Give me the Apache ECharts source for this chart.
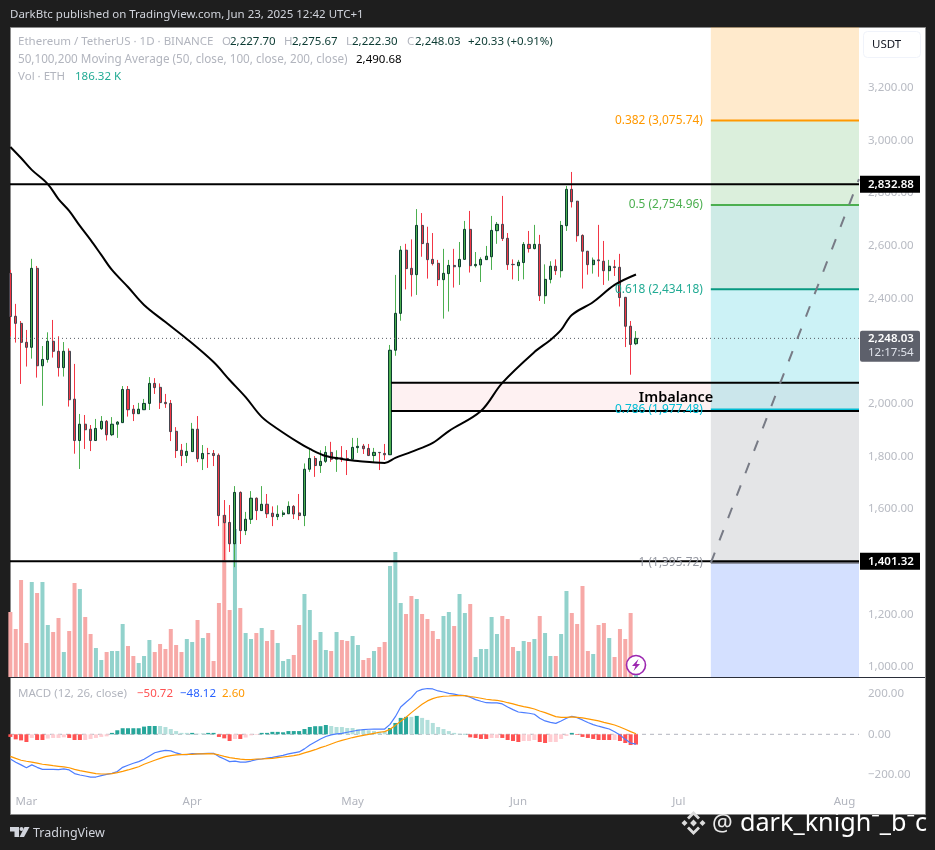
<!DOCTYPE html>
<html><head><meta charset="utf-8">
<script src="https://cdn.jsdelivr.net/npm/echarts@6/dist/echarts.min.js"></script>
<style>html,body{margin:0;padding:0;background:#1e1e1e}#c{width:935px;height:850px}</style>
</head><body><div id="c"></div>
<script>
// open, close, low, high, one row per day from 26 Feb 2025
const candles = [
[2495,2331,2255,2508],[2332,2305,2232,2379],[2305,2233,2075,2314],
[2233,2214,2141,2280],[2214,2514,2171,2550],[2514,2144,2099,2523],[2144,2168,1992,2219],[2168,2237,2156,2271],[2237,2199,2175,2318],[2199,2137,2103,2256],[2137,2199,2103,2234],[2199,2015,1989,2210],[2017,1860,1810,2151],
[1860,1922,1752,1961],[1922,1901,1828,1957],[1903,1860,1820,1919],[1860,1906,1860,1942],[1905,1933,1900,1953],[1933,1882,1860,1938],[1882,1922,1877,1949],[1922,1930,1870,1934],[1928,2054,1928,2067],[2054,1977,1951,2067],
[1979,1962,1934,1995],[1962,1979,1962,2003],[1977,2001,1977,2018],[2001,2077,1976,2101],[2077,2061,2037,2097],[2062,2004,1980,2077],[2005,2000,1984,2037],[2001,1894,1858,2014],[1895,1822,1794,1911],[1823,1803,1763,1847],[1803,1819,1775,1851],
[1818,1903,1818,1927],[1903,1791,1778,1953],[1791,1811,1748,1843],[1811,1810,1756,1832],[1811,1803,1763,1824],[1804,1575,1535,1811],[1576,1548,1406,1634],[1549,1468,1437,1615],[1468,1663,1379,1687],[1663,1518,1467,1667],
[1518,1561,1501,1589],[1561,1641,1543,1668],[1641,1594,1558,1644],[1594,1618,1594,1687],[1618,1582,1566,1657],[1584,1571,1535,1610],[1571,1580,1558,1614],[1579,1585,1570,1595],[1582,1610,1582,1629],[1610,1581,1562,1615],
[1585,1575,1558,1657],[1575,1751,1535,1773],[1751,1792,1741,1832],[1792,1765,1722,1801],[1765,1781,1737,1823],[1781,1815,1775,1839],[1815,1789,1779,1855],[1789,1796,1741,1823],[1794,1789,1779,1839],[1792,1785,1729,1824],
[1789,1834,1789,1870],[1833,1838,1813,1870],[1839,1829,1809,1847],[1830,1803,1801,1847],[1803,1815,1779,1832],[1815,1814,1748,1815],[1811,1806,1786,1847],[1806,2203,1806,2223],[2203,2343,2182,2489],[2343,2583,2315,2599],
[2583,2513,2434,2607],[2514,2490,2407,2624],[2490,2677,2413,2739],[2677,2608,2558,2724],[2609,2547,2475,2672],[2548,2532,2525,2648],[2533,2471,2447,2546],[2471,2495,2323,2588],[2494,2525,2350,2546],[2525,2520,2441,2588],
[2520,2548,2451,2614],[2548,2662,2548,2694],[2662,2524,2498,2732],[2524,2529,2517,2576],[2527,2548,2462,2556],[2547,2560,2547,2599],[2558,2658,2508,2713],[2657,2681,2607,2690],[2681,2627,2618,2789],[2628,2528,2508,2648],[2529,2528,2472,2548],
[2524,2537,2466,2546],[2536,2605,2472,2614],[2605,2589,2574,2656],[2589,2605,2586,2679],[2605,2410,2390,2641],[2410,2472,2379,2529],[2472,2522,2457,2541],[2522,2505,2489,2548],[2505,2677,2479,2694],[2676,2814,2656,2827],
[2814,2767,2745,2880],[2769,2638,2615,2770],[2639,2579,2437,2643],[2579,2528,2490,2580],[2528,2545,2494,2555],[2546,2543,2482,2679],[2541,2505,2451,2618],[2505,2522,2467,2546],[2520,2517,2485,2546],[2518,2403,2369,2569],
[2404,2294,2215,2404],[2294,2225,2110,2314],[2227.70,2248.03,2222.30,2275.67]
];
// volume in thousands of ETH
const volume = [
1300,960,1940,
680,1900,1680,1900,1040,900,1180,500,920,1880,1760,1200,860,580,340,500,520,520,1060,620,420,280,420,740,500,660,560,960,640,500,760,
700,1140,780,880,320,1480,3240,1340,2960,1380,880,760,880,980,720,940,680,320,360,440,1040,1660,1340,740,900,540,520,900,740,720,
820,640,340,380,520,600,700,2220,2500,1480,1260,1620,1560,1260,1160,920,760,1220,1300,1020,1660,1280,1460,400,560,560,1200,860,1220,1160,600,
520,720,700,760,1220,880,420,420,860,1720,1280,1060,1820,520,460,1040,1080,780,400,960,760,1280,186.32
];
const macdHist = [
-13,-25,-30,
-38,-18,-28,-28,-21,-18,-18,-15,-18,-28,-28,-28,-23,-18,-13,-10,7,20,30,30,30,30,38,41,41,41,36,26,16,7,7,
7,3,5,7,7,-13,-20,-33,-23,-23,-16,-5,-3,7,7,12,12,10,16,16,16,26,36,40,40,46,41,36,36,31,
31,25,21,20,16,13,16,31,56,81,86,86,91,81,71,56,36,26,16,7,3,2,-15,-18,-23,-23,-18,-18,-18,-28,-33,
-38,-33,-33,-28,-38,-43,-38,-38,-23,-8,7,-3,-13,-18,-23,-28,-28,-28,-28,-33,-43,-53,-50.72
];
const histStrong = [
1,1,1,
1,0,1,1,0,0,0,0,1,1,1,0,0,0,0,0,1,1,1,1,1,1,1,1,1,0,0,0,0,0,0,
1,0,0,1,1,1,1,1,0,1,0,0,0,1,1,1,1,1,1,1,1,1,1,1,1,1,0,0,0,0,
0,0,0,0,0,0,0,1,1,1,1,0,1,0,0,0,0,0,0,0,0,1,1,1,1,1,0,0,1,1,1,
1,0,0,0,1,1,0,0,0,0,1,1,1,1,1,1,1,1,0,1,1,1,1
];
const macdLine = [
-122,-138,-151,
-165,-151,-163,-173,-173,-173,-174,-171,-176,-194,-201,-206,-211,-211,-204,-198,-193,-184,-163,-153,-143,-135,-123,-107,-91,-84,-79,-82,-92,-99,-100,
-95,-97,-95,-94,-94,-110,-122,-135,-132,-137,-137,-132,-125,-122,-117,-114,-109,-104,-97,-92,-87,-72,-53,-38,-23,-11,-3,2,5,10,
15,20,23,25,26,26,26,49,87,135,158,181,211,222,226,224,214,209,202,198,193,191,183,171,163,156,155,155,150,135,122,
110,107,104,99,79,66,59,54,66,79,89,82,71,58,48,40,33,26,13,-3,-25,-43,-48.12
];
const signalLine = [
-109,-119,-128,
-133,-137,-142,-148,-151,-155,-158,-161,-165,-173,-179,-184,-189,-194,-196,-196,-194,-189,-183,-176,-168,-160,-148,-138,-128,-119,-110,-105,-102,-100,-99,
-99,-97,-97,-95,-97,-102,-109,-115,-119,-123,-125,-125,-122,-122,-120,-119,-115,-112,-109,-105,-100,-92,-84,-76,-66,-58,-48,-38,-30,-23,
-16,-10,-5,0,5,10,13,25,44,64,84,107,128,148,165,176,184,188,189,191,191,191,186,183,178,173,170,168,163,156,150,
143,137,132,125,115,107,97,87,84,84,86,84,81,76,71,66,59,53,46,36,25,13,2.60
];
const maDates = ['2025-02-26','2025-02-28','2025-03-02','2025-03-05','2025-03-07','2025-03-09','2025-03-11','2025-03-13','2025-03-15','2025-03-17','2025-03-20','2025-03-23','2025-03-27','2025-03-31','2025-04-05','2025-04-08','2025-04-11','2025-04-14','2025-04-17','2025-04-21','2025-04-23','2025-04-26','2025-04-29','2025-05-02','2025-05-07','2025-05-09','2025-05-12','2025-05-16','2025-05-19','2025-05-25','2025-05-29','2025-06-04','2025-06-07','2025-06-09','2025-06-11','2025-06-15','2025-06-19','2025-06-23'];
const maValues = [2975,2933,2888,2834,2777,2732,2675,2622,2565,2508,2443,2375,2310,2246,2158,2090,2025,1950,1904,1851,1828,1801,1790,1782,1775,1794,1817,1851,1896,1972,2079,2196,2242,2280,2337,2386,2451,2490.68];
const fibLevels = ['0.382','0.5','0.618','0.786','1'];
const fibPrices = [3075.74,2754.96,2434.18,1977.48,1395.72];
const fibColors = ['#FF9800','#4CAF50','#089981','#00BCD4','#787B86','#2962FF'];
const fibLabelColors = ['#FF9800','#4CAF50','#22AB94','#00BCD4','#9598A1'];
const keyLevels = [2832.88,1401.32];
const lastPrice = 2248.03;
const countdown = '12:17:54';
const imbalance = [2079,1972];
const trendPrices = [1395.72,2853];
const priceTicks = [1000,1200,1600,1800,2000,2400,2600,2800,3000,3200];
const macdTicks = [200,0,-200];
const monthLabels = ['Mar','Apr','May','Jun','Jul','Aug'];
const monthStarts = ['2025-03-01','2025-04-01','2025-05-01','2025-06-01','2025-07-01','2025-08-01'];

const FONT = '"Noto Sans", sans-serif';
const DAY = 864e5;
const ms = s => Date.parse(s + 'T00:00:00Z');
const xMin = ms('2025-02-26') - 0.07 * DAY;
const xMax = xMin + 158.78 * DAY;
const yMin = 962, yMax = 3430.5;
const fibStart = ms('2025-07-07');
const imbStart = ms('2025-05-08') + 0.2 * DAY;
const dayX = i => Date.UTC(2025, 1, 26 + i);
const fmt = v => v.toLocaleString('en-US', {minimumFractionDigits: 2, maximumFractionDigits: 2});

const rectSeries = (data, z, colorOf) => ({
  type: 'custom', xAxisIndex: 0, yAxisIndex: 0, z, silent: true, clip: true,
  encode: {x: [0, 1], y: [2, 3]}, data,
  renderItem(p, api) {
    const a = api.coord([api.value(0), api.value(2)]), b = api.coord([api.value(1), api.value(3)]);
    return {type: 'rect', shape: {x: a[0], y: a[1], width: b[0] - a[0], height: b[1] - a[1]},
      style: {fill: colorOf(p.dataIndex), opacity: 1}};
  }
});
const hexA = (h, a) => `rgba(${parseInt(h.slice(1,3),16)},${parseInt(h.slice(3,5),16)},${parseInt(h.slice(5,7),16)},${a})`;
const zoneEdges = [yMax, ...fibPrices, yMin];
const zones = fibColors.map((c, i) => [fibStart, xMax, zoneEdges[i], zoneEdges[i + 1]]);
const hline = (name, pts, color, width, type, z, xi = 0, yi = 0) => ({
  name, type: 'line', xAxisIndex: xi, yAxisIndex: yi, data: pts, showSymbol: false, silent: true, z,
  lineStyle: {color, width, type}, animation: false
});
const textItem = (x, y, text, fill, size, extra = {}) => ({
  type: 'text', x, y: y + 1, z: 100, silent: true,
  style: Object.assign({text, fill, font: `${extra.weight || 'normal'} ${size}px ${FONT}`, textVerticalAlign: 'middle', textAlign: extra.align || 'left'})
});
const poly = (points, fill) => ({type: 'polygon', z: 96, silent: true, shape: {points}, style: {fill}});
const diamond = (cx, cy, r, fill) => poly([[cx, cy - r], [cx + r, cy], [cx, cy + r], [cx - r, cy]], fill);

const graphic = [
  {type: 'rect', z: -100, silent: true, shape: {x: 10.5, y: 27.5, width: 915, height: 787}, style: {fill: '#fff', stroke: '#8a8a8a', lineWidth: 1}},
  {type: 'line', z: 50, silent: true, shape: {x1: 10, y1: 677.5, x2: 925, y2: 677.5}, style: {stroke: '#2a2e39', lineWidth: 1}},
  textItem(10, 14, 'DarkBtc published on TradingView.com, Jun 23, 2025 12:42 UTC+1', '#d1d4dc', 11.5),
  textItem(18, 41, 'Ethereum / TetherUS · 1D · BINANCE', '#b2b5be', 11.5),
  textItem(222, 41, 'O', '#b2b5be', 11.5), textItem(230, 41, '2,227.70', '#0c3b33', 11.5),
  textItem(284, 41, 'H', '#b2b5be', 11.5), textItem(292, 41, '2,275.67', '#0c3b33', 11.5),
  textItem(346, 41, 'L', '#b2b5be', 11.5), textItem(352, 41, '2,222.30', '#0c3b33', 11.5),
  textItem(407, 41, 'C', '#b2b5be', 11.5), textItem(415, 41, '2,248.03', '#0c3b33', 11.5),
  textItem(468, 41, '+20.33 (+0.91%)', '#0c3b33', 11.5),
  textItem(18, 59, '50,100,200 Moving Average (50, close, 100, close, 200, close)', '#b2b5be', 11.7),
  textItem(356, 59, '2,490.68', '#000', 11.5),
  textItem(18, 76, 'Vol · ETH', '#b2b5be', 11.5),
  textItem(75, 76, '186.32 K', '#22ab94', 11.5),
  textItem(18, 693, 'MACD (12, 26, close)', '#b2b5be', 11.5),
  textItem(137, 693, '−50.72', '#ff5252', 11.5),
  textItem(180, 693, '−48.12', '#2962ff', 11.5),
  textItem(222, 693, '2.60', '#ff9800', 11.5),
  {type: 'rect', z: 90, silent: true, shape: {x: 863.5, y: 31.5, width: 57, height: 26, r: 4}, style: {fill: '#fff', stroke: '#f0f3fa', lineWidth: 1}},
  textItem(872, 43.5, 'USDT', '#131722', 11.5),
  {type: 'circle', z: 95, silent: true, shape: {cx: 636, cy: 665, r: 9.5}, style: {fill: '#fff', stroke: '#9c27b0', lineWidth: 1.6}},
  poly([[638.5,659],[632,666],[635.5,666],[633.5,671],[640,664],[636.5,664]], '#9c27b0'),
  poly([[10,827],[19,827],[19,837],[14.5,837],[14.5,831.5],[10,831.5]], '#d1d4dc'),
  poly([[24.5,827],[29.5,827],[24,837],[19.5,837]], '#d1d4dc'),
  {type: 'circle', z: 96, silent: true, shape: {cx: 21.5, cy: 829, r: 2}, style: {fill: '#d1d4dc'}},
  textItem(33, 832, 'TradingView', '#d1d4dc', 12.5),
  diamond(693.5, 823, 3.4, '#dcdcdc'), diamond(684.5, 823, 3, '#dcdcdc'), diamond(702.5, 823, 3, '#dcdcdc'),
  poly([[693.5,811],[700,817.5],[698,819.5],[693.5,815],[689,819.5],[687,817.5]], '#dcdcdc'),
  poly([[693.5,835],[687,828.5],[689,826.5],[693.5,831],[698,826.5],[700,828.5]], '#dcdcdc'),
  textItem(712, 823, '@', '#e8e8e8', 23),
  textItem(740, 823, 'dark_knigh⁻_b⁻c', '#ffffff', 25.2),
];

const series = [
  {name: 'Volume', type: 'bar', xAxisIndex: 0, yAxisIndex: 1, barWidth: 4, z: 1, silent: true,
   data: volume.map((v, i) => ({value: [dayX(i), v], itemStyle: {color: candles[i][1] >= candles[i][0] ? '#92d2cc' : '#f7a9a7'}}))},
  rectSeries([[imbStart, xMax, imbalance[0], imbalance[1]]], 1.5, () => 'rgba(242,54,69,0.07)'),
  rectSeries(zones, 2, i => hexA(fibColors[i], 0.2)),
  {name: 'Wicks', type: 'candlestick', xAxisIndex: 0, yAxisIndex: 0, barWidth: 1, z: 3, silent: true,
   data: candles.map((c, i) => [dayX(i), c[0], c[1], c[2], c[3]]),
   itemStyle: {color: '#4caf50', color0: '#f23645', borderColor: '#4caf50', borderColor0: '#f23645', borderWidth: 1}},
  {name: 'Bodies', type: 'candlestick', xAxisIndex: 0, yAxisIndex: 0, barWidth: 2.6, z: 3.5, silent: true,
   data: candles.map((c, i) => [dayX(i), c[0], c[1], Math.min(c[0], c[1]), Math.max(c[0], c[1])]),
   itemStyle: {color: '#4caf50', color0: '#f23645', borderColor: '#0b3d2e', borderColor0: '#46464f', borderWidth: 1}},
  hline('Last', [[xMin, lastPrice], [xMax, lastPrice]], '#555a63', 1, [1, 3], 4),
  Object.assign(hline('MA50', maDates.map((d, i) => [ms(d), maValues[i]]), '#000', 2, 'solid', 5), {smooth: 0.35}),
  hline('R1', [[xMin, keyLevels[0]], [xMax, keyLevels[0]]], '#000', 2, 'solid', 6),
  hline('R2', [[xMin, keyLevels[1]], [xMax, keyLevels[1]]], '#000', 2, 'solid', 6),
  hline('ImbTop', [[imbStart, imbalance[0]], [xMax, imbalance[0]]], '#000', 2, 'solid', 6),
  hline('ImbBottom', [[imbStart, imbalance[1]], [xMax, imbalance[1]]], '#000', 2, 'solid', 6),
  ...fibPrices.map((p, i) => hline('Fib' + fibLevels[i], [[fibStart, p], [xMax, p]], fibColors[i], 2, 'solid', 5.5)),
  hline('Trend', [[fibStart, trendPrices[0]], [xMax, trendPrices[1]]], '#787b86', 2, [11, 13], 7),
  {type: 'custom', xAxisIndex: 0, yAxisIndex: 0, z: 8, silent: true, data: fibPrices.map(p => [fibStart, p]), encode: {x: 0, y: 1},
   renderItem(p, api) {
     const c = api.coord([api.value(0), api.value(1)]);
     return {type: 'text', x: c[0] - 8, y: c[1], style: {text: `${fibLevels[p.dataIndex]} (${fmt(fibPrices[p.dataIndex])})`,
       fill: fibLabelColors[p.dataIndex], font: `11.9px ${FONT}`, textAlign: 'right', textVerticalAlign: 'middle'}};
   }},
  {type: 'custom', xAxisIndex: 0, yAxisIndex: 0, z: 9, silent: true, data: [[ms('2025-06-30') + 0.5 * DAY, 2022]], encode: {x: 0, y: 1},
   renderItem(p, api) {
     const c = api.coord([api.value(0), api.value(1)]);
     return {type: 'text', x: c[0], y: c[1], style: {text: 'Imbalance', fill: '#000', font: `600 14.5px ${FONT}`, textAlign: 'center', textVerticalAlign: 'middle'}};
   }},
  {type: 'custom', xAxisIndex: 0, yAxisIndex: 0, z: 20, silent: true, clip: false, data: keyLevels.map(p => [xMax, p]), encode: {x: 0, y: 1},
   renderItem(p, api) {
     const c = api.coord([api.value(0), api.value(1)]);
     return {type: 'group', children: [
       {type: 'rect', shape: {x: c[0] + 1, y: c[1] - 8.5, width: 60, height: 17}, style: {fill: '#000'}},
       {type: 'text', x: c[0] + 9, y: c[1] + 0.5, style: {text: fmt(api.value(1)), fill: '#fff', font: `600 11.5px ${FONT}`, textVerticalAlign: 'middle'}}
     ]};
   }},
  {type: 'custom', xAxisIndex: 0, yAxisIndex: 0, z: 20, silent: true, clip: false, data: [[xMax, lastPrice]], encode: {x: 0, y: 1},
   renderItem(p, api) {
     const c = api.coord([api.value(0), api.value(1)]);
     return {type: 'group', children: [
       {type: 'rect', shape: {x: c[0] + 1, y: c[1] - 7.5, width: 60, height: 31, r: 2}, style: {fill: '#5d606b'}},
       {type: 'text', x: c[0] + 9, y: c[1] + 0.5, style: {text: fmt(api.value(1)), fill: '#fff', font: `600 11.5px ${FONT}`, textVerticalAlign: 'middle'}},
       {type: 'text', x: c[0] + 9, y: c[1] + 14.5, style: {text: countdown, fill: '#e0e3eb', font: `11.5px ${FONT}`, textVerticalAlign: 'middle'}}
     ]};
   }},
  {name: 'Histogram', type: 'bar', xAxisIndex: 1, yAxisIndex: 2, barWidth: 4, z: 2, silent: true,
   data: macdHist.map((v, i) => ({value: [dayX(i), v], itemStyle: {color: v >= 0 ? (histStrong[i] ? '#26a69a' : '#b2dfdb') : (histStrong[i] ? '#ff5252' : '#ffcdd2')}}))},
  hline('Zero', [[xMin, 0], [xMax, 0]], '#b2b5be', 1, [4, 4], 1, 1, 2),
  hline('MACD', macdLine.map((v, i) => [dayX(i), v]), '#4d7eff', 1.2, 'solid', 3, 1, 2),
  hline('Signal', signalLine.map((v, i) => [dayX(i), v]), '#ff9800', 1.2, 'solid', 3, 1, 2),
];
series.forEach(s => { s.animation = false; });

const chart = echarts.init(document.getElementById('c'), null, {renderer: 'canvas'});
chart.setOption({
  animation: false,
  useUTC: true,
  backgroundColor: '#1e1e1e',
  textStyle: {fontFamily: FONT},
  grid: [
    {left: 10, width: 849, top: 27, height: 650, containLabel: false},
    {left: 10, width: 849, top: 678, height: 112, containLabel: false}
  ],
  xAxis: [
    {type: 'value', scale: true, gridIndex: 0, min: xMin, max: xMax, show: false, splitLine: {show: false}},
    {type: 'value', scale: true, gridIndex: 1, min: xMin, max: xMax, position: 'bottom',
     axisLine: {show: false}, axisTick: {show: false}, splitLine: {show: false},
     axisLabel: {show: true, customValues: monthStarts.map(ms), color: '#b2b5be', fontSize: 11.5, margin: 6, fontFamily: FONT,
       formatter: v => monthLabels[monthStarts.map(ms).indexOf(+v)] || ''}}
  ],
  yAxis: [
    {type: 'value', gridIndex: 0, position: 'right', min: yMin, max: yMax, scale: true,
     axisLine: {show: false}, axisTick: {show: false}, splitLine: {show: false},
     axisLabel: {customValues: priceTicks, color: '#b8bbc3', fontSize: 11.5, margin: 9, align: 'left', fontFamily: FONT, formatter: v => fmt(v)}},
    {type: 'value', gridIndex: 0, min: 0, max: 13000, show: false, splitLine: {show: false}},
    {type: 'value', gridIndex: 1, position: 'right', min: -275, max: 278,
     axisLine: {show: false}, axisTick: {show: false}, splitLine: {show: false},
     axisLabel: {customValues: macdTicks, color: '#b8bbc3', fontSize: 11.5, margin: 9, align: 'left', fontFamily: FONT, formatter: v => fmt(v).replace('-', '−')}}
  ],
  graphic: {elements: graphic},
  series
});
</script></body></html>
